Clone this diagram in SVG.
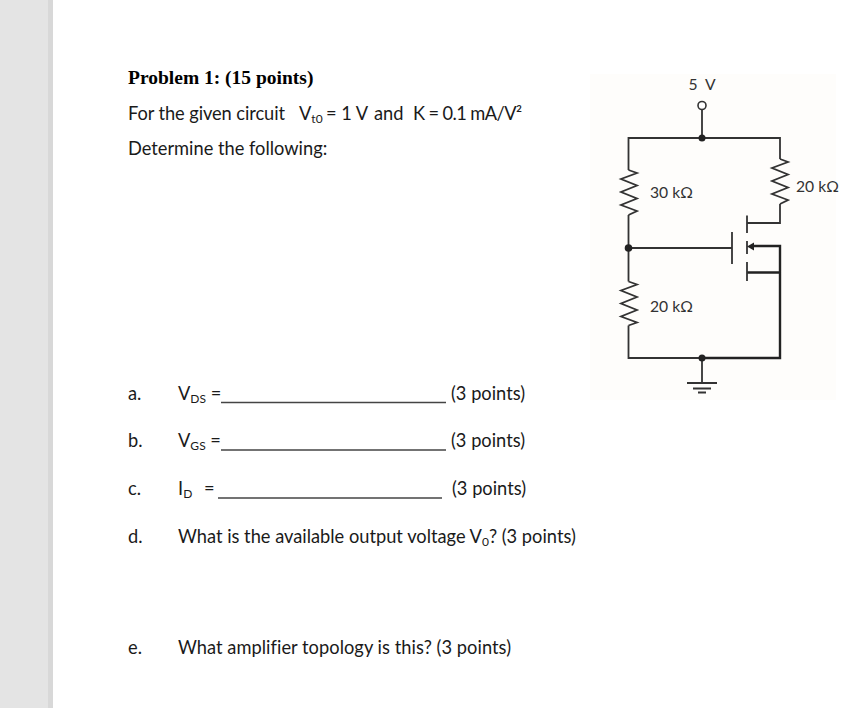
<svg xmlns="http://www.w3.org/2000/svg" width="855" height="708" viewBox="0 0 855 708">
<style>
text{font-family:"Lato","Carlito","Open Sans",sans-serif;font-size:18.25px;fill:#1a1a1a;font-variant-ligatures:none}
.t{font-family:"Liberation Serif",serif;font-weight:bold;font-size:19.5px;fill:#000}
.s{font-size:12px}
.c{font-size:15.7px;fill:#333}
.w{fill:none;stroke:#333;stroke-width:1.8}
.h{fill:none;stroke:#222;stroke-width:2.4}
.d{fill:#222}
.u{stroke:#444;stroke-width:1.4}
</style>
<rect width="855" height="708" fill="#fff"/>
<rect width="53" height="708" fill="#e4e4e4"/>
<rect x="48" width="5" height="708" fill="#d8d8d8"/>
<rect x="590" y="74" width="246" height="326" fill="#fefdfb"/>
<g id="text">
<text class="t" x="128" y="84">Problem 1: (15 points)</text>
<text x="128" y="120" textLength="157">For the given circuit</text>
<text x="299" y="120">V<tspan class="s" dy="3">t0</tspan></text>
<text x="326" y="120">= 1 V</text>
<text x="374" y="120">and</text>
<text x="413" y="120" textLength="109">K = 0.1 mA/V²</text>
<text x="128" y="155">Determine the following:</text>
<text x="128" y="400">a.</text>
<text x="178" y="400">V<tspan class="s" dy="3">DS</tspan><tspan dy="-3"> =</tspan></text>
<line class="u" x1="221" y1="402.500" x2="446" y2="402.500"/>
<text x="451" y="400">(3 points)</text>
<text x="128" y="447">b.</text>
<text x="178" y="447">V<tspan class="s" dy="3">GS</tspan><tspan dy="-3"> =</tspan></text>
<line class="u" x1="221" y1="450" x2="446" y2="450"/>
<text x="451" y="447">(3 points)</text>
<text x="128" y="495">c.</text>
<text x="178" y="495">I<tspan class="s" dy="3">D</tspan></text>
<text x="204" y="495">=</text>
<line class="u" x1="218" y1="498" x2="442" y2="498"/>
<text x="452" y="495">(3 points)</text>
<text x="128" y="543">d.</text>
<text x="178" y="543">What is the available output voltage V<tspan class="s" dy="3">0</tspan><tspan dy="-3">? (3 points)</tspan></text>
<text x="128" y="654">e.</text>
<text x="178" y="654" textLength="333">What amplifier topology is this? (3 points)</text>
</g>
<g id="connectors">
<path class="w" d="M702 110V138M628.500 170V138H780V159M628.500 215V281.500M628.500 248H732M628.500 325.500V358H702"/>
<path class="w" d="M780 204V223H747"/>
<path class="h" d="M752 246H780V358H702M747 272.500H780"/>
<path class="w" d="M702 358V383"/>
</g>
<g id="r1"><path class="w" d="M628.500 170L637 173L621 179L637 185.500L621 192L637 198.500L621 205L637 211L628.500 215"/></g>
<g id="r2"><path class="w" d="M780 159L788 162L772 168L788 174.500L772 181L788 187.500L772 194L788 200L780 204"/></g>
<g id="r3"><path class="w" d="M628.500 281.500L637 284.500L621 290.500L637 297L621 303.500L637 310L621 316.500L637 322.500L628.500 325.500"/></g>
<g id="supply"><circle cx="702" cy="105.500" r="4" fill="#fff" stroke="#333" stroke-width="1.600"/><text class="c" x="702" y="90" text-anchor="middle" xml:space="preserve">5  V</text></g>
<g id="mosfet">
<path class="w" d="M732 232V264M747 215.500V233M747 241V254M747 262V281"/>
<path class="d" d="M747 246.500L754 242.500V250.500Z"/>
</g>
<g id="nodes">
<circle class="d" cx="702" cy="138" r="3.500"/><circle class="d" cx="628.500" cy="248" r="3.800"/><circle class="d" cx="702" cy="358" r="3.500"/>
</g>
<g id="ground"><path class="w" d="M687 383H717M693 388.500H711M698 392.500H706"/></g>
<g id="labels">
<text class="c" x="650" y="198">30 kΩ</text>
<text class="c" x="796" y="192">20 kΩ</text>
<text class="c" x="650" y="312">20 kΩ</text>
</g>
</svg>
